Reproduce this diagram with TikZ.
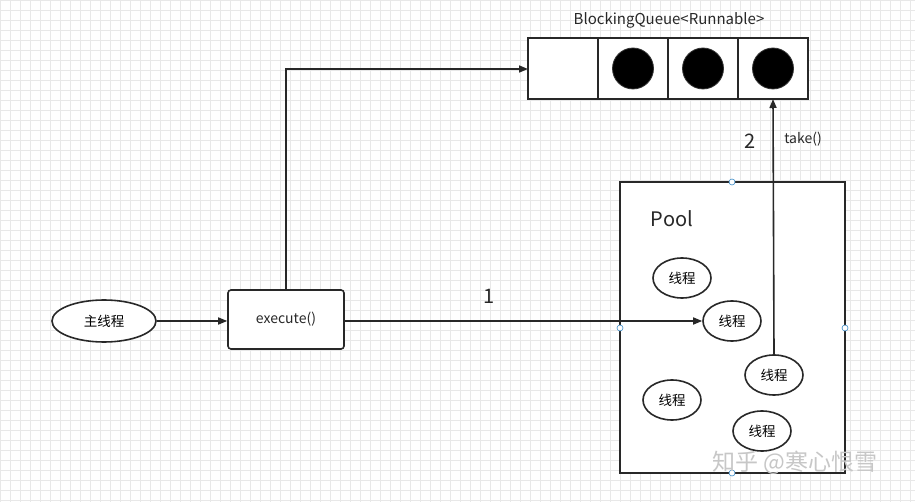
\documentclass[tikz,border=0pt]{standalone}
\usepackage{fontspec}
\setmainfont{Noto Sans CJK SC}
\usetikzlibrary{arrows.meta,shapes.geometric}
\begin{document}
\begin{tikzpicture}[x=1pt,y=-1pt,
  ln/.style={line width=1.6pt,draw={rgb,255:red,40;green,40;blue,40}},
  arr/.style={ln,-{Triangle[length=9pt,width=7pt]}},
  th/.style={ellipse,ln,fill=white,minimum width=58pt,minimum height=40pt,inner sep=0pt,font=\fontsize{13.5}{15}\selectfont},
  handle/.style={circle,draw={rgb,255:red,60;green,140;blue,200},fill=white,line width=0.6pt,minimum size=6pt,inner sep=0pt},
  txt/.style={font=\fontsize{14}{16}\selectfont,text={rgb,255:red,40;green,40;blue,40}}]
\useasboundingbox (0,0) rectangle (915,502);
\fill[white] (0,0) rectangle (915,502);
\foreach \x in {0,10,...,910} \draw[black!9,line width=0.6pt] (\x,0) -- (\x,502);
\foreach \y in {0,10,...,500} \draw[black!9,line width=0.6pt] (0,\y) -- (915,\y);
% queue
\draw[ln,fill=white] (528,38) rectangle (808,99);
\draw[ln] (598,38) -- (598,99) (668,38) -- (668,99) (738,38) -- (738,99);
\foreach \x/\n in {633/q1,703/q2,773/q3}
  \node[circle,fill=black,draw=black!80,line width=0.8pt,minimum size=41pt,inner sep=0pt] (\n) at (\x,68.5) {};
\coordinate (qin) at (528,69);
\coordinate (qbot) at (773,99);
\node[txt,font=\fontsize{15}{17}\selectfont] (qlabel) at (669,20) {BlockingQueue<Runnable>};
% pool
\draw[ln,fill=white] (620,182) rectangle (845,473);
\node[font=\fontsize{20}{22}\selectfont,text={rgb,255:red,40;green,40;blue,40}] (pool) at (672,219) {Pool};
\node[th] (t1) at (682,278) {线程};
\node[th] (t2) at (732,321) {线程};
\node[th] (t3) at (774,375) {线程};
\node[th] (t4) at (672,400) {线程};
\node[th] (t5) at (762,431) {线程};
% main
\node[th,minimum width=104pt,minimum height=42pt] (main) at (104,321) {主线程};
\node[ln,rounded corners=3pt,fill=white,minimum width=116pt,minimum height=59pt,txt] (exec) at (286,319.5) {execute()};
\draw[arr] (main) -- (exec.west|-main);
\draw[arr] (exec.east|-t2) -- (t2);
\node[font=\fontsize{20}{22}\selectfont,text={rgb,255:red,40;green,40;blue,40}] (one) at (489,296) {1};
\draw[arr] (exec.north) |- (qin);
\draw[arr] (t3.north) -- (qbot);
\node[font=\fontsize{20}{22}\selectfont,text={rgb,255:red,40;green,40;blue,40}] (two) at (750,141) {2};
\node[txt] (take) at (803,139) {take()};
% handles
\node[handle] (h1) at (732,182) {};
\node[handle] (h2) at (620,328) {};
\node[handle] (h3) at (845,328) {};
\node[handle] (h4) at (732,473) {};
\node[font=\fontsize{23}{26}\selectfont,text=black!22] (wm) at (795,463) {知乎 @寒心恨雪};
\end{tikzpicture}
\end{document}
